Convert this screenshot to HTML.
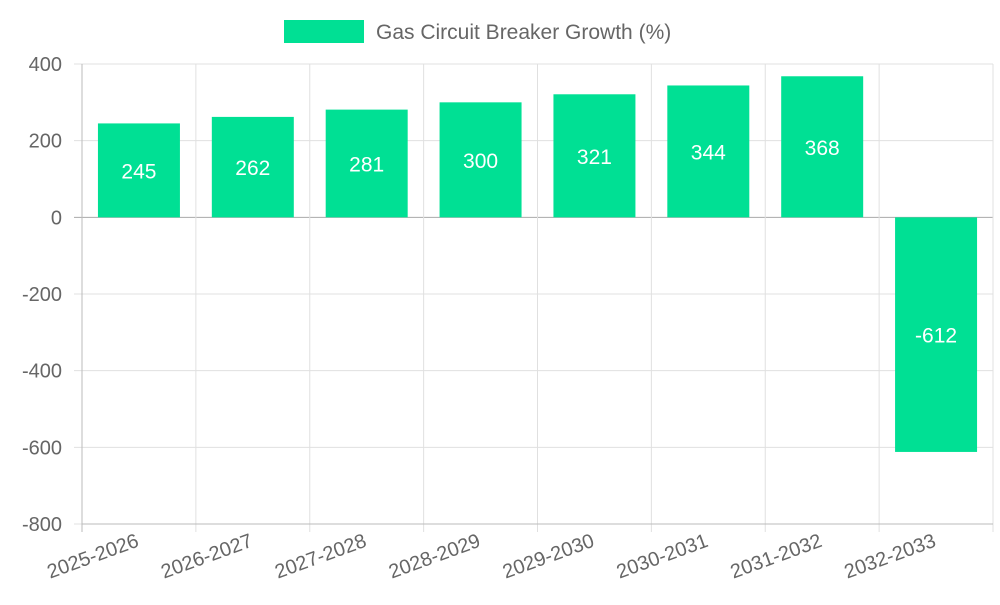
<!DOCTYPE html>
<html><head><meta charset="utf-8"><style>
body{margin:0;background:#fff;font-family:"Liberation Sans",sans-serif;}
</style></head><body>
<svg id="chart" width="1000" height="600" xmlns="http://www.w3.org/2000/svg" font-family="Liberation Sans, sans-serif">
<g>
<rect x="284" y="20" width="80" height="23" fill="#00e094"/>
<text x="376" y="39" font-size="21" fill="#666">Gas Circuit Breaker Growth (%)</text>
</g>
<g id="grid"></g><g id="bars"></g><g id="labels"></g>
</svg>
<script>
const categories=["2025-2026","2026-2027","2027-2028","2028-2029","2029-2030","2030-2031","2031-2032","2032-2033"];
const values=[245,262,281,300,321,344,368,-612];
const yTicks=[400,200,0,-200,-400,-600,-800];
const NS="http://www.w3.org/2000/svg";
const L=82,R=993,T=64,B=524,yMax=400,yMin=-800;
const y=v=>T+(yMax-v)/(yMax-yMin)*(B-T);
const bw=(R-L)/categories.length;
const x=i=>L+i*bw;
function mk(t,a,p){const e=document.createElementNS(NS,t);for(const k in a)e.setAttribute(k,a[k]);p.appendChild(e);return e;}
const g=document.getElementById('grid'),bg=document.getElementById('bars'),lg=document.getElementById('labels');
yTicks.forEach(v=>{
 const ln=mk('line',{x1:L-8,x2:R,y1:y(v),y2:y(v),stroke:v===0?'#aaa':'#e0e0e0','stroke-width':1},g);
 
 
 const t=mk('text',{x:L-20,y:y(v)+7,'text-anchor':'end','font-size':20,fill:'#666'},g);
 t.textContent=v;
 
 
});
for(let i=0;i<=categories.length;i++){
 const ln=mk('line',{x1:x(i),x2:x(i),y1:T,y2:B+8,stroke:i===0?'#bbb':'#e0e0e0'},g);
 
 
}
mk('line',{x1:L,x2:R,y1:B,y2:B,stroke:'#bbb'},g);
categories.forEach((c,i)=>{
 const cx=x(i)+bw/2,v=values[i],w=bw*0.72;
 const top=Math.min(y(v),y(0)),h=Math.abs(y(v)-y(0));
 const r=mk('rect',{x:cx-w/2,y:top,width:w,height:h,fill:'#00e094'},bg);
 
 
 const t=mk('text',{x:cx,y:top+h/2+8,'text-anchor':'middle','font-size':21,fill:'#fff'},lg);
 t.textContent=v;
 
 
 const xl=mk('text',{x:0,y:0,'text-anchor':'end','font-size':20,fill:'#666',transform:`translate(${x(i)+58},${B+22}) rotate(-20)`},lg);
 xl.textContent=c;
 
 
});
</script>
</body></html>
